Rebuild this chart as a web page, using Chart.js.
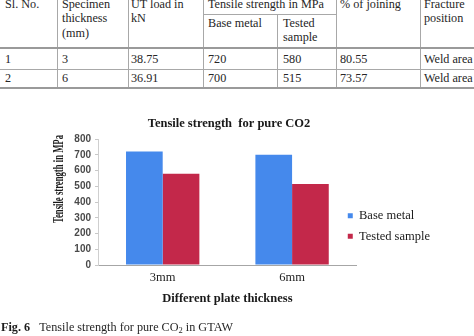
<!DOCTYPE html>
<html>
<head>
<meta charset="utf-8">
<script src="https://cdn.jsdelivr.net/npm/chart.js@4/dist/chart.umd.min.js"></script>
<style>
  html, body { margin: 0; padding: 0; background: #fff; }
  body { width: 474px; height: 336px; position: relative; overflow: hidden; }
  .t { position: absolute; white-space: nowrap; font-family: "Liberation Serif", "Times New Roman", serif;
       font-size: 12.2px; line-height: 14.3px; color: #262626; }
  .hl, .vl { position: absolute; background: #a8a8a8; }
  #chartBox { position: absolute; left: 1px; top: 110px; width: 456px; height: 226px; }
  #caption { position: absolute; left: 1px; top: 319.7px; z-index: 2; }
  #caption b { font-weight: bold; color: #1e1e1e; }
</style>
</head>
<body>
<div id="table"></div>
<div id="chartBox"><canvas id="chart" width="456" height="226"></canvas></div>
<div id="caption" class="t"><b>Fig. 6</b>&nbsp;&nbsp;&nbsp;Tensile strength for pure CO<sub style="font-size:8.5px;vertical-align:-2px;line-height:0">2</sub> in GTAW</div>
<script>
// Welding test results: specimens 1 and 2
const specimenNo = ['1', '2'];
const thicknessMm = [3, 6];
const utLoadKn = ['38.75', '36.91'];
const baseMetalMpa = [720, 700];
const testedSampleMpa = [580, 515];
const joiningPct = ['80.55', '73.57'];
const fracturePosition = ['Weld area', 'Weld area'];

// Header text, one entry per line
const headSlNo = ['Sl. No.'];
const headThickness = ['Specimen', 'thickness', '(mm)'];
const headLoad = ['UT load in', 'kN'];
const headStrength = ['Tensile strength in MPa'];
const headBase = ['Base metal'];
const headTested = ['Tested', 'sample'];
const headJoining = ['% of joining'];
const headFracture = ['Fracture', 'position'];

// Chart labels
const categories = thicknessMm.map(t => t + 'mm');
const seriesNames = ['Base metal', 'Tested sample'];
const chartTitle = 'Tensile strength  for pure CO2';
const xTitle = 'Different plate thickness';
const yTitle = 'Tensile strength in MPa';

// ---- table ----
const table = document.getElementById('table');
const colText = [5, 62, 131, 208, 283, 340, 424];
const ascentOffset = 11.3;
function text(str, x, baseline) {
  const d = document.createElement('div');
  d.className = 't';
  d.textContent = str;
  d.style.left = x + 'px';
  d.style.top = (baseline - ascentOffset) + 'px';
  table.appendChild(d);
}
function lines(arr, x, firstBaseline) {
  arr.forEach((s, i) => text(s, x, firstBaseline + i * 14.3));
}
function rule(cls, x, y, w, h, color) {
  const d = document.createElement('div');
  d.className = cls;
  Object.assign(d.style, { left: x + 'px', top: y + 'px', width: w + 'px', height: h + 'px' });
  if (color) d.style.background = color;
  table.appendChild(d);
}
lines(headSlNo, colText[0], 8.3);
lines(headThickness, colText[1], 8.3);
lines(headLoad, colText[2], 8.3);
lines(headStrength, colText[3], 8.0);
lines(headBase, colText[3], 27.3);
lines(headTested, colText[4], 27.3);
lines(headJoining, colText[5], 8.3);
lines(headFracture, colText[6], 8.3);

const rowBaselines = [63.3, 82.7];
specimenNo.forEach((_, i) => {
  const b = rowBaselines[i];
  text(specimenNo[i], colText[0], b);
  text(String(thicknessMm[i]), colText[1], b);
  text(utLoadKn[i], colText[2], b);
  text(String(baseMetalMpa[i]), colText[3], b);
  text(String(testedSampleMpa[i]), colText[4], b);
  text(joiningPct[i], colText[5], b);
  text(fracturePosition[i], colText[6], b);
});
[57, 128, 203, 336, 420].forEach(x => rule('vl', x, 0, 1, 89));
rule('vl', 277, 14, 1, 75);
rule('hl', 203, 13.5, 134, 1);
rule('hl', 0, 47, 474, 2, '#9a9a9a');
rule('hl', 0, 68.5, 474, 1);
rule('hl', 0, 87, 474, 2, '#9a9a9a');

// ---- chart ----
const serif = "'Liberation Serif', 'Times New Roman', serif";

// rotated, condensed y-axis title
const yTitlePlugin = {
  id: 'yTitle',
  afterDraw(chart) {
    const ctx = chart.ctx;
    ctx.save();
    ctx.translate(61.5, 69);
    ctx.rotate(-Math.PI / 2);
    ctx.scale(0.62, 1);
    ctx.font = 'bold 14px ' + serif;
    ctx.fillStyle = '#1a1a1a';
    ctx.textAlign = 'center';
    ctx.textBaseline = 'alphabetic';
    ctx.fillText(yTitle, 0, 0);
    ctx.restore();
  }
};

// legend sits partly over the plot's right margin
const legendPlace = {
  id: 'legendPlace',
  afterLayout(chart) {
    const lg = chart.legend;
    const w = lg.right - lg.left;
    lg.left = chart.chartArea.right - 17;
    lg.right = lg.left + w;
    lg.top += 3;
    lg.bottom += 3;
  }
};

new Chart(document.getElementById('chart'), {
  type: 'bar',
  data: {
    labels: categories,
    datasets: [
      { label: seriesNames[0], data: baseMetalMpa, backgroundColor: '#4589ec', borderWidth: 0 },
      { label: seriesNames[1], data: testedSampleMpa, backgroundColor: '#c3284a', borderWidth: 0 }
    ]
  },
  options: {
    responsive: false,
    animation: false,
    events: [],
    layout: { padding: 0 },
    datasets: { bar: { categoryPercentage: 0.567, barPercentage: 1.0 } },
    plugins: {
      title: {
        display: true,
        text: chartTitle,
        color: '#1a1a1a',
        font: { family: serif, size: 12.5, weight: 'bold', lineHeight: 1.2 },
        padding: { top: 6, bottom: 8 }
      },
      legend: {
        position: 'right',
        maxWidth: 101,
        labels: {
          boxWidth: 5,
          boxHeight: 5,
          padding: 8,
          color: '#1a1a1a',
          font: { family: serif, size: 12.5 }
        }
      },
      tooltip: { enabled: false }
    },
    scales: {
      x: {
        grid: { display: false, drawTicks: false },
        border: { display: true, color: '#a6a6a6' },
        ticks: { color: '#222', font: { family: serif, size: 12.5 }, padding: 5.5 },
        title: {
          display: true,
          text: xTitle,
          color: '#1a1a1a',
          font: { family: serif, size: 12.5, weight: 'bold', lineHeight: 1.2 },
          padding: { top: 0, bottom: 29.5 }
        },
        afterFit(scale) { scale.height = 71; }
      },
      y: {
        min: 0,
        max: 800,
        ticks: { stepSize: 100, color: '#4a4a4a', font: { family: "'Liberation Sans', Arial, sans-serif", size: 10, weight: 'bold' }, padding: 4 },
        grid: { display: true, drawOnChartArea: false, drawTicks: true, tickLength: 3, color: '#c8c8c8' },
        border: { display: true, color: '#cfcfcf' },
        afterFit(scale) { scale.width = 97; }
      }
    }
  },
  plugins: [yTitlePlugin, legendPlace]
});
</script>
</body>
</html>
